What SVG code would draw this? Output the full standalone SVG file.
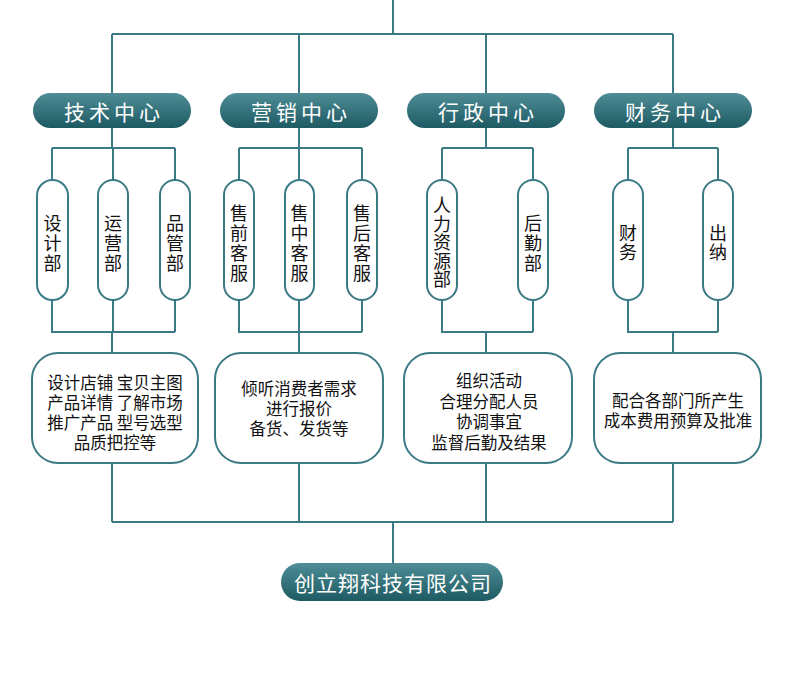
<svg xmlns="http://www.w3.org/2000/svg" width="790" height="700" viewBox="0 0 790 700">
<defs>
<linearGradient id="g" x1="0" y1="0" x2="0" y2="1">
<stop offset="0" stop-color="#4f8d97"/>
<stop offset="1" stop-color="#1d5a62"/>
</linearGradient>
<style>
.ln{fill:none;stroke:#3b7a84;stroke-width:2}
.hd{fill:url(#g)}
.ht{fill:#fff;font-family:"Noto Sans CJK SC","Noto Sans",sans-serif;font-size:21px;letter-spacing:4px;text-anchor:middle;dominant-baseline:central}
.sp{fill:#fff;stroke:#3b7a84;stroke-width:2}
.st{fill:#111;font-family:"Noto Sans CJK SC","Noto Sans",sans-serif;font-size:18px;text-anchor:middle;dominant-baseline:central}
.bx{fill:#fff;stroke:#3b7a84;stroke-width:2}
.bt{fill:#111;font-family:"Noto Sans CJK SC","Noto Sans",sans-serif;font-size:16.5px;text-anchor:middle;dominant-baseline:central}
</style>
</defs>
<rect width="790" height="700" fill="#fff"/>
<g id="connectors" class="ln">
<path d="M393 0V34M112 34H673M112 34V93M299 34V93M486 34V93M673 34V93"/>
<path d="M112 128V148M52 148H175M52 148V180M113 148V180M175 148V180M52 300V332H175M113 300V332M175 300V332M112 332V353"/>
<path d="M299 128V148M239 148H362M239 148V180M299 148V180M362 148V180M239 300V332H362M299 300V332M362 300V332M299 332V353"/>
<path d="M486 128V148M442 148H533M442 148V180M533 148V180M442 300V332H533M533 300V332M486 332V353"/>
<path d="M673 128V148M628 148H718M628 148V180M718 148V180M628 300V332H718M718 300V332M673 332V353"/>
<path d="M112 463V522M299 463V522M486 463V522M673 463V522M112 522H673M393 522V563"/>
</g>
<g id="n-jishu"><rect class="hd" x="33" y="93" width="158" height="35" rx="17.5"/><text class="ht" x="114" y="110.5">技术中心</text></g>
<g id="n-yingxiao"><rect class="hd" x="220" y="93" width="158" height="35" rx="17.5"/><text class="ht" x="301" y="110.5">营销中心</text></g>
<g id="n-xingzheng"><rect class="hd" x="407" y="93" width="158" height="35" rx="17.5"/><text class="ht" x="488" y="110.5">行政中心</text></g>
<g id="n-caiwu"><rect class="hd" x="594" y="93" width="158" height="35" rx="17.5"/><text class="ht" x="675" y="110.5">财务中心</text></g>

<g id="n-sheji"><rect class="sp" x="37" y="180" width="31" height="120" rx="15.5"/><text class="st"><tspan x="52.5" y="222">设</tspan><tspan x="52.5" y="242">计</tspan><tspan x="52.5" y="262">部</tspan></text></g>
<g id="n-yunying"><rect class="sp" x="98" y="180" width="30" height="120" rx="15"/><text class="st"><tspan x="113" y="222">运</tspan><tspan x="113" y="242">营</tspan><tspan x="113" y="262">部</tspan></text></g>
<g id="n-pinguan"><rect class="sp" x="160" y="180" width="30" height="120" rx="15"/><text class="st"><tspan x="175" y="222">品</tspan><tspan x="175" y="242">管</tspan><tspan x="175" y="262">部</tspan></text></g>

<g id="n-shouqian"><rect class="sp" x="224" y="180" width="30" height="120" rx="15"/><text class="st"><tspan x="239" y="212">售</tspan><tspan x="239" y="232">前</tspan><tspan x="239" y="252">客</tspan><tspan x="239" y="272">服</tspan></text></g>
<g id="n-shouzhong"><rect class="sp" x="285" y="180" width="29" height="120" rx="14.5"/><text class="st"><tspan x="299.5" y="212">售</tspan><tspan x="299.5" y="232">中</tspan><tspan x="299.5" y="252">客</tspan><tspan x="299.5" y="272">服</tspan></text></g>
<g id="n-shouhou"><rect class="sp" x="347" y="180" width="30" height="120" rx="15"/><text class="st"><tspan x="362" y="212">售</tspan><tspan x="362" y="232">后</tspan><tspan x="362" y="252">客</tspan><tspan x="362" y="272">服</tspan></text></g>

<g id="n-renli"><rect class="sp" x="427" y="180" width="30" height="120" rx="15"/><text class="st"><tspan x="442" y="204">人</tspan><tspan x="442" y="222.5">力</tspan><tspan x="442" y="241">资</tspan><tspan x="442" y="259.5">源</tspan><tspan x="442" y="278">部</tspan></text></g>
<g id="n-houqin"><rect class="sp" x="518" y="180" width="30" height="120" rx="15"/><text class="st"><tspan x="533" y="222">后</tspan><tspan x="533" y="242">勤</tspan><tspan x="533" y="262">部</tspan></text></g>

<g id="n-caiwu2"><rect class="sp" x="613" y="180" width="30" height="120" rx="15"/><text class="st"><tspan x="628" y="232">财</tspan><tspan x="628" y="251">务</tspan></text></g>
<g id="n-chuna"><rect class="sp" x="703" y="180" width="30" height="120" rx="15"/><text class="st"><tspan x="718" y="232">出</tspan><tspan x="718" y="251">纳</tspan></text></g>

<g id="b-jishu"><rect class="bx" x="32" y="353" width="166" height="110" rx="26"/><text class="bt"><tspan x="115" y="382">设计店铺 宝贝主图</tspan><tspan x="115" y="402">产品详情 了解市场</tspan><tspan x="115" y="422">推广产品 型号选型</tspan><tspan x="115" y="442">品质把控等</tspan></text></g>
<g id="b-yingxiao"><rect class="bx" x="215" y="353" width="168" height="110" rx="26"/><text class="bt"><tspan x="299" y="388">倾听消费者需求</tspan><tspan x="299" y="408">进行报价</tspan><tspan x="299" y="428">备货、发货等</tspan></text></g>
<g id="b-xingzheng"><rect class="bx" x="404" y="353" width="168" height="110" rx="26"/><text class="bt"><tspan x="489" y="380">组织活动</tspan><tspan x="489" y="400.5">合理分配人员</tspan><tspan x="489" y="421">协调事宜</tspan><tspan x="489" y="441.5">监督后勤及结果</tspan></text></g>
<g id="b-caiwu"><rect class="bx" x="594" y="353" width="167" height="110" rx="26"/><text class="bt"><tspan x="678" y="400">配合各部门所产生</tspan><tspan x="678" y="420">成本费用预算及批准</tspan></text></g>

<g id="n-company"><rect class="hd" x="281" y="563" width="222" height="38" rx="19"/><text class="ht" x="393" y="582" style="letter-spacing:1px">创立翔科技有限公司</text></g>
</svg>
